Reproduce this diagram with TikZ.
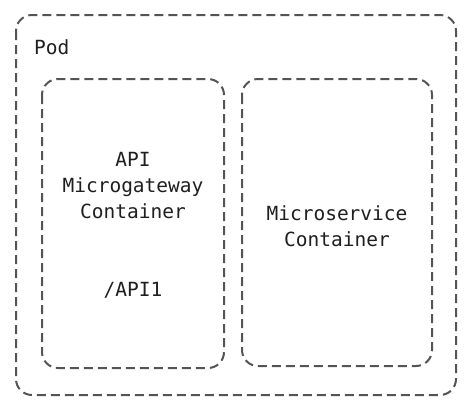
\documentclass[tikz,border=0pt]{standalone}
\usepackage{fontspec}
\setmonofont{DejaVu Sans Mono}
\begin{document}
\begin{tikzpicture}[x=1bp,y=-1bp,
  box/.style={draw=black!67, line width=2bp, dash pattern=on 9bp off 5bp, rounded corners=16bp},
  lbl/.style={font=\ttfamily\fontsize{19.5bp}{26bp}\selectfont, text=black!88, align=center, inner sep=0pt}]
\useasboundingbox (0,0) rectangle (474,418);
\draw[box] (16,15) rectangle (456,395);
\draw[box] (42,79) rectangle (224,368);
\draw[box] (242,79) rectangle (432,366);
\node[lbl, anchor=west] (pod) at (34,47) {Pod};
\node[lbl] (api) at (133,186) {API\\Microgateway\\Container};
\node[lbl] (path) at (133,290) {/API1};
\node[lbl] (ms) at (337,226) {Microservice\\Container};
\end{tikzpicture}
\end{document}
